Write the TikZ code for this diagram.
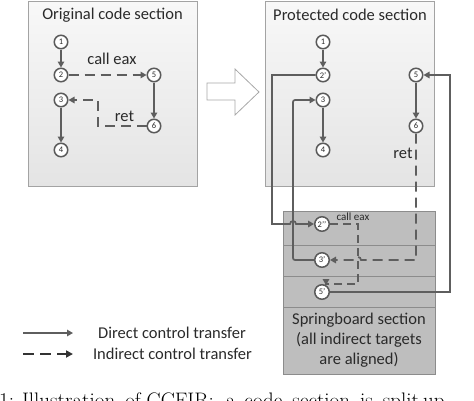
\documentclass[tikz,border=0pt]{standalone}
\usepackage{fontspec}
\newfontfamily\calib{Carlito}
\usetikzlibrary{arrows.meta,calc}
\definecolor{linec}{HTML}{5E5E5E}
\definecolor{nodec}{HTML}{5A5A5A}
\definecolor{boxb}{HTML}{A3A3A3}
\definecolor{boxt}{HTML}{F8F8F8}
\definecolor{boxbot}{HTML}{E4E4E4}
\definecolor{springf}{HTML}{BEBEBE}
\definecolor{springb}{HTML}{8C8C8C}
\definecolor{txtc}{HTML}{2A2A2A}
\definecolor{hollowc}{HTML}{A8A8A8}
\tikzset{
  cnode/.style={circle, draw=nodec, line width=1.5pt, fill=white, minimum size=13.5pt, inner sep=0pt, text=txtc, font=\calib\fontsize{8.5}{8.5}\selectfont},
  snode/.style={cnode, minimum size=14.5pt},
  lbl/.style={text=txtc, inner sep=0pt, font=\calib\fontsize{16.5}{20}\selectfont},
  slbl/.style={text=txtc, inner sep=0pt, font=\calib\fontsize{11}{12}\selectfont},
  dirarr/.style={draw=linec, line width=1.7pt, -{Triangle[length=6pt,width=6.5pt]}},
  indarr/.style={dirarr, dash pattern=on 10pt off 6pt},
  secbox/.style={draw=boxb, line width=0.9pt, top color=boxt, bottom color=boxbot},
  springbox/.style={draw=springb, line width=0.9pt, fill=springf},
}
\begin{document}
\begin{tikzpicture}[x=1pt, y=-1pt]
\useasboundingbox (0,0) rectangle (474,400);
\clip (0,0) rectangle (474,400);
% section boxes
\path[secbox] (28,1) rectangle (197,186);
\path[secbox] (265,1) rectangle (434,186);
\node[lbl] (t1) at (112.5,15) {Original code section};
\node[lbl] (t2) at (350,15) {Protected code section};
% hollow arrow
\draw[draw=hollowc, line width=0.8pt, fill=white] (207,83) -- (235,83) -- (235,69) -- (259,92) -- (235,115) -- (235,100) -- (207,100) -- cycle;
% springboard
\path[springbox] (283,211) rectangle (435,374);
\draw[draw=springb, line width=0.9pt] (283,245) -- (435,245) (283,276) -- (435,276) (283,307) -- (435,307);
\node[lbl, align=center] (sb) at (359,340) {Springboard section\\(all indirect targets\\are aligned)};
% original nodes
\node[cnode] (o1) at (61,42) {1};
\node[cnode] (o2) at (61,75) {2};
\node[cnode] (o3) at (61,100) {3};
\node[cnode] (o4) at (61,150) {4};
\node[cnode] (o5) at (154,75) {5};
\node[cnode] (o6) at (154,126) {6};
\coordinate (oc) at (98,110);
\draw[dirarr] (o1) -- (o2);
\draw[dirarr] (o3) -- (o4);
\draw[dirarr] (o5) -- (o6);
\draw[indarr] (o2) -- (o5);
\draw[indarr] (o6) -- (o6 -| oc) -- (o3 -| oc) -- (o3);
\node[lbl] (ce1) at (112,59) {call eax};
\node[lbl] (r1) at (124.5,116) {ret};
% protected nodes
\node[cnode] (p1) at (323,42) {1};
\node[cnode] (p2) at (323,75) {2’};
\node[cnode] (p3) at (323,100) {3};
\node[cnode] (p4) at (323,150) {4};
\node[cnode] (p5) at (416,75) {5};
\node[cnode] (p6) at (416,126) {6};
\node[lbl] (r2) at (403,153) {ret};
% springboard nodes
\node[snode] (s2) at (322,224) {2’’};
\node[snode] (s3) at (322,260) {3’};
\node[snode] (s5) at (322,292) {5’};
\node[slbl] (ce2) at (353,217) {call eax};
\draw[dirarr] (p1) -- (p2);
\draw[dirarr] (p3) -- (p4);
\draw[dirarr] (p5) -- (p6);
\coordinate (xa) at (272,0);
\coordinate (xb) at (293,0);
\coordinate (xc) at (450,0);
\coordinate (xd) at (358,0);
\coordinate (ya) at (0,284);
% 2' -> 2''
\draw[dirarr] (p2) -- (p2 -| xa) -- (s2 -| xa) -- ($(s2 -| xb)+(-3,0)$) arc[start angle=180, end angle=360, radius=3] -- (s2);
% 3' -> 3
\draw[dirarr, rounded corners=2pt] (s3) -- (s3 -| xb) -- (p3 -| xb) -- (p3);
% 5' -> 5
\draw[dirarr] (s5) -- (s5 -| xc) -- (p5 -| xc) -- (p5);
% ret: 6 -> 3'
\draw[indarr] (p6) -- (s3 -| p6) -- ($(s3 -| xd)+(3,0)$) arc[start angle=0, end angle=-180, radius=3] -- (s3);
% call eax: 2'' -> 5'
\draw[indarr, dash pattern=on 8pt off 5pt] (s2) -- (s2 -| xd) -- (ya -| xd) -- (ya -| s5.60) -- (s5.60);
% legend
\coordinate (l1a) at (23,333);
\coordinate (l1b) at (73,333);
\coordinate (l2a) at (23,354);
\coordinate (l2b) at (73,354);
\draw[dirarr, line width=1.4pt] (l1a) -- (l1b);
\draw[indarr, line width=1.8pt, draw=black!80, -{Triangle[length=7pt,width=7pt]}, dash pattern=on 11pt off 6pt] (l2a) -- (l2b);
\node[lbl] (lg1) at (172,333) {Direct control transfer};
\node[lbl] (lg2) at (172.5,354) {Indirect control transfer};
% caption (cut by the page edge)
\node[anchor=base west, inner sep=0pt, font=\fontsize{21}{21}\selectfont, text=black] (cap) at (-1,407) {1:\hspace{8pt}Illustration\hspace{10pt}of\hspace{6pt}CCFIR:\hspace{12pt}a\hspace{9pt}code\hspace{10pt}section\hspace{10pt}is\hspace{10pt}split\hspace{4pt}up};
\end{tikzpicture}
\end{document}
